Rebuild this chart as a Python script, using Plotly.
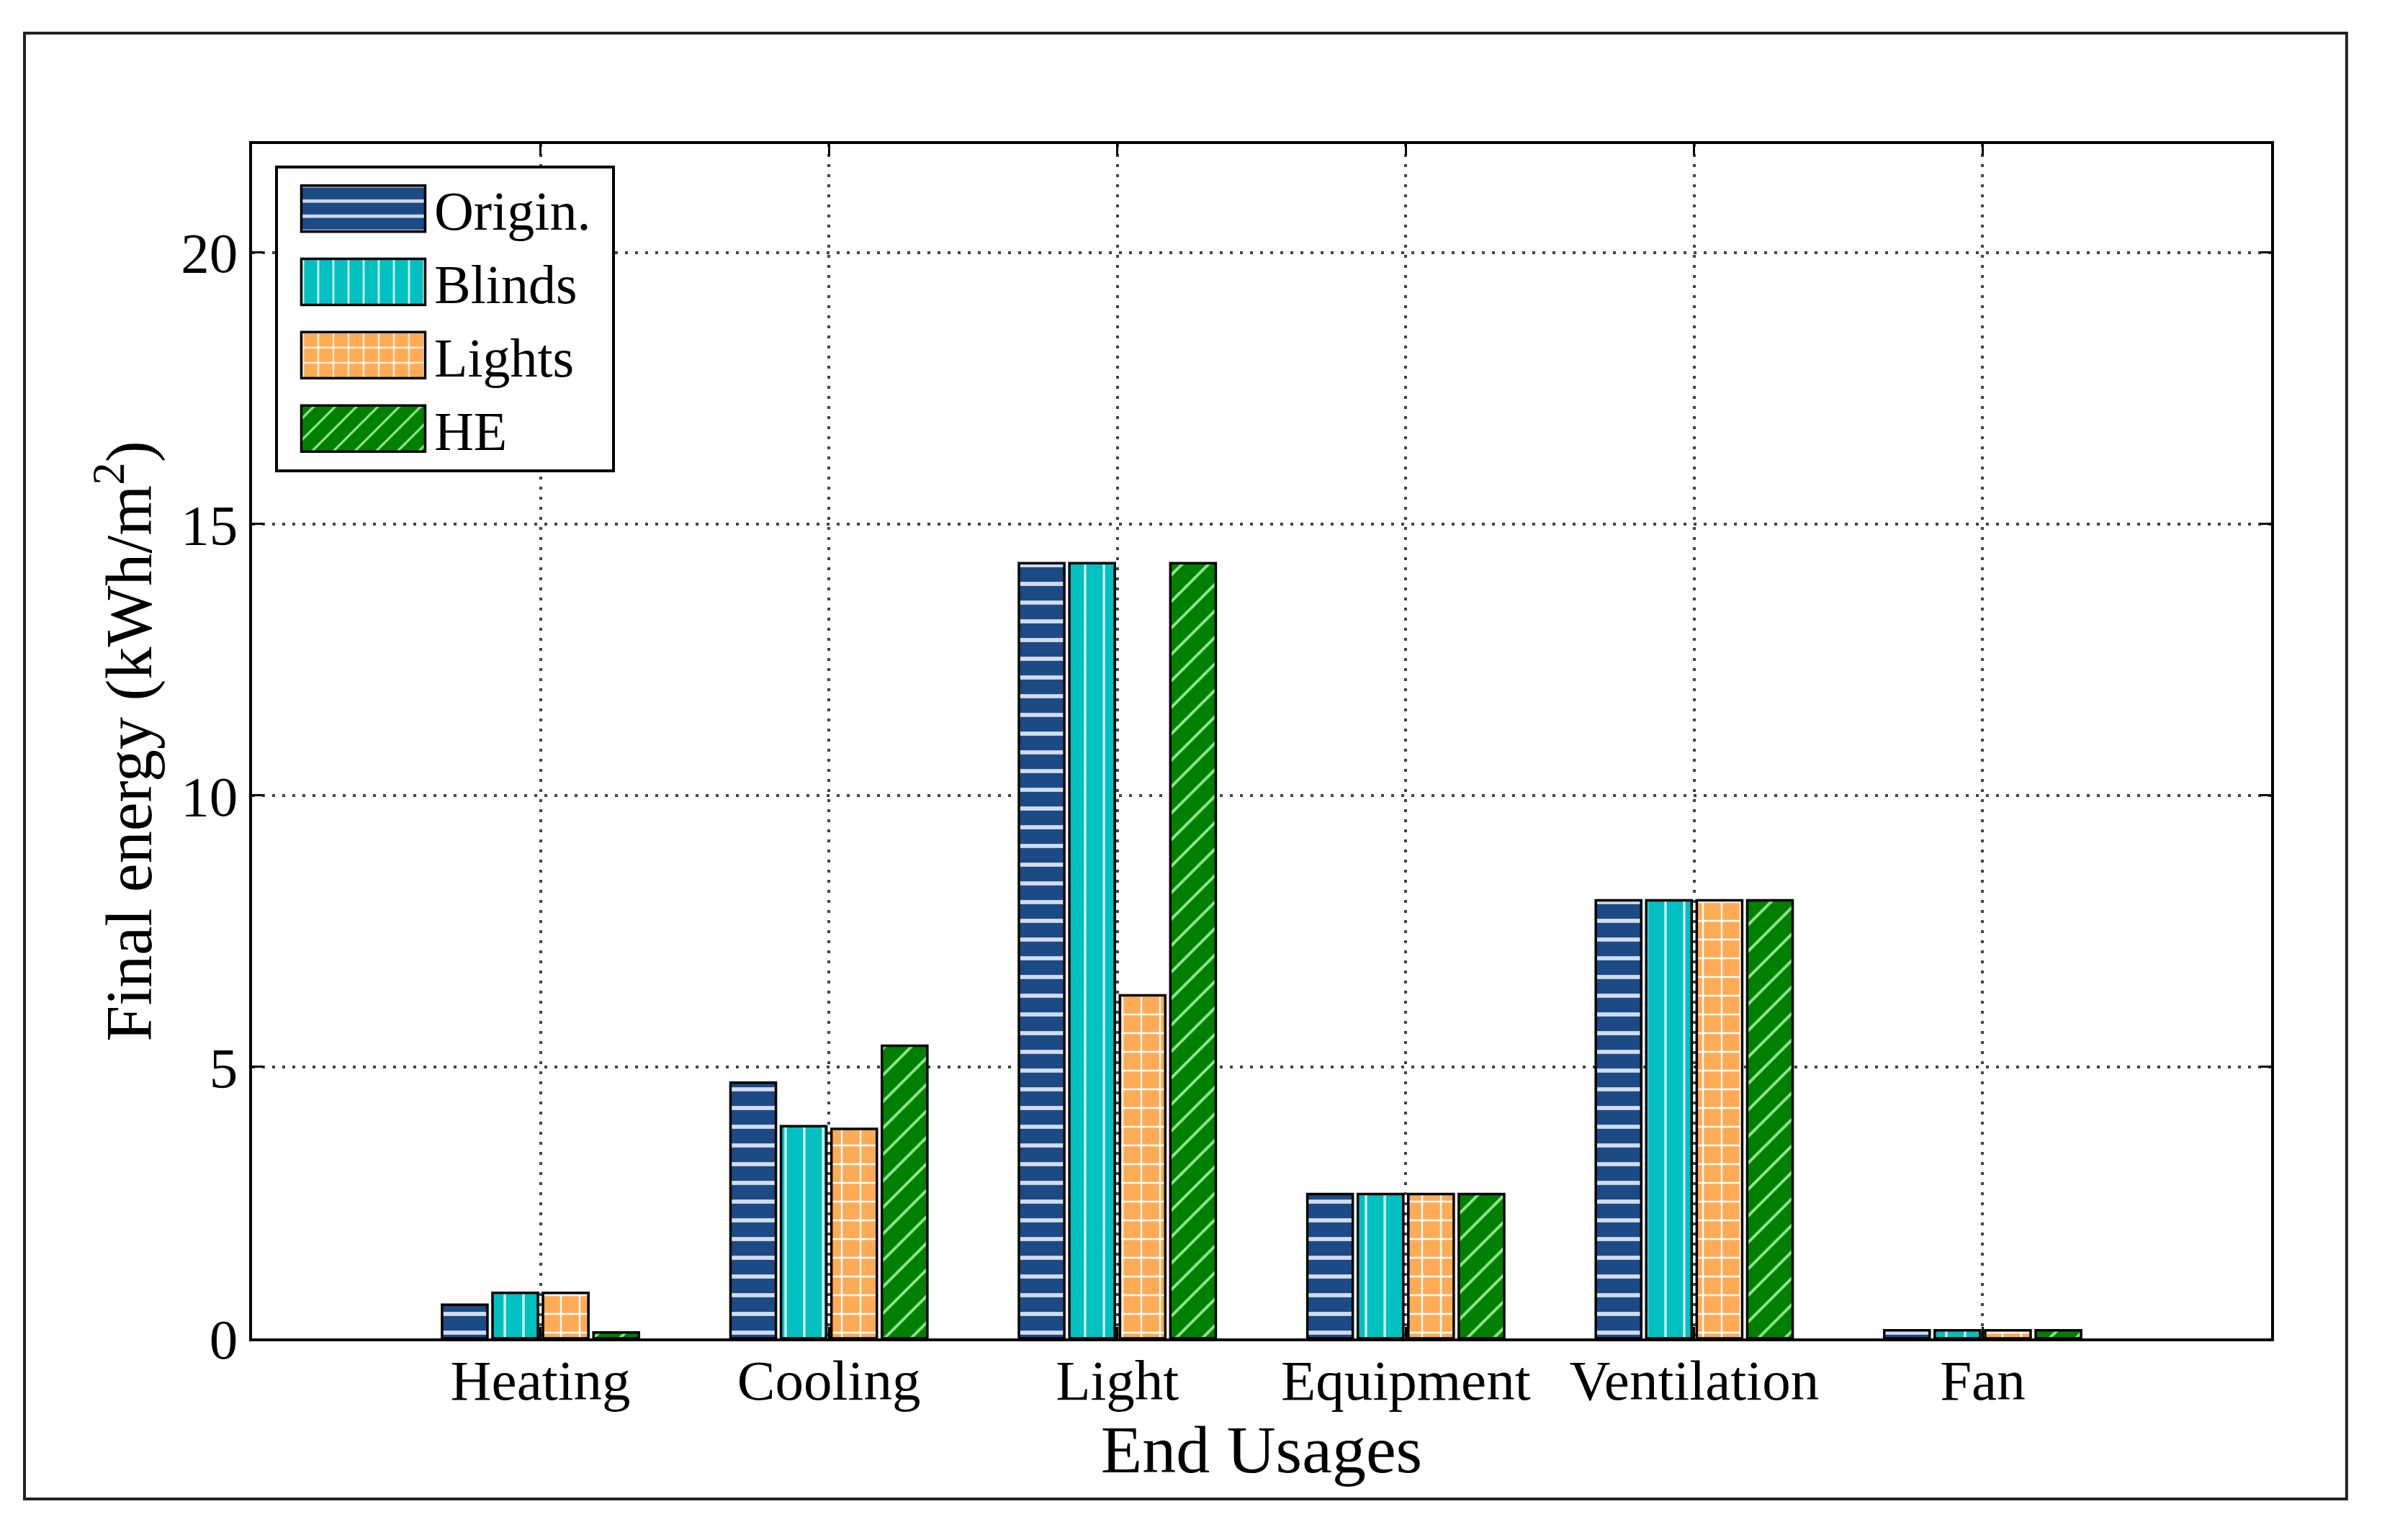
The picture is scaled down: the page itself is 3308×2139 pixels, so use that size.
import plotly.graph_objects as go

categories = ["Heating", "Cooling", "Light", "Equipment", "Ventilation", "Fan"]
series_names = ["Origin.", "Blinds", "Lights", "HE"]
origin = [0.62, 4.71, 14.28, 2.66, 8.07, 0.15]
blinds = [0.84, 3.91, 14.28, 2.66, 8.07, 0.15]
lights = [0.84, 3.86, 6.32, 2.66, 8.07, 0.15]
he = [0.11, 5.39, 14.28, 2.66, 8.07, 0.15]
y_ticks = [0, 5, 10, 15, 20]

values = [origin, blinds, lights, he]
fills = ["#1c4a84", "#00c0c0", "#ffab55", "#008000"]
fg = ["#d2dcec", "#e8ffff", "#ffffff", "#8fe88f"]
shapes_p = ["-", "|", "+", "/"]
sizes = [26, 26, 26, 26]
solid = [0.22, 0.12, 0.18, 0.15]

FONT = "Liberation Serif"
GRID_DASH = "4px,10px"

fig = go.Figure()
for name, vals, c, f, s, sz, so in zip(series_names, values, fills, fg, shapes_p, sizes, solid):
    fig.add_trace(go.Bar(
        x=categories, y=vals, name=name,
        marker=dict(color=c, line=dict(color="black", width=3.5),
                    pattern=dict(shape=s, fgcolor=f, size=sz, solidity=so, fgopacity=1)),
    ))

fig.update_layout(
    width=3308, height=2139,
    margin=dict(l=350, r=154, t=200, b=280),
    paper_bgcolor="white", plot_bgcolor="white",
    barmode="group", bargap=0.3, bargroupgap=0.1,
    font=dict(family=FONT, color="black", size=78),
    showlegend=True,
    legend=dict(x=0.0114, y=0.982, xanchor="left", yanchor="top",
                bgcolor="white", bordercolor="black", borderwidth=4,
                font=dict(family=FONT, size=76, color="black"),
                itemwidth=207, tracegroupgap=0, traceorder="normal"),
    shapes=[dict(type="rect", xref="paper", yref="paper",
                 x0=-0.1127, x1=1.0374, y0=-0.1344, y1=1.0928,
                 line=dict(color="#222", width=4), layer="below")],
)

fig.update_xaxes(
    type="category", range=[-1, 6],
    showline=True, linecolor="black", linewidth=4, mirror="allticks",
    ticks="inside", ticklen=16, tickwidth=3, tickcolor="black",
    showgrid=True, gridcolor="#444444", gridwidth=4, griddash=GRID_DASH,
    tickfont=dict(family=FONT, size=79), ticklabelstandoff=-14,
    title=dict(text="End Usages", font=dict(family=FONT, size=94), standoff=4),
)
fig.update_yaxes(
    range=[0, 22], tickvals=y_ticks, ticktext=[str(v) for v in y_ticks],
    showline=True, linecolor="black", linewidth=4, mirror="allticks",
    ticks="inside", ticklen=16, tickwidth=3, tickcolor="black",
    showgrid=True, gridcolor="#444444", gridwidth=4, griddash=GRID_DASH,
    zeroline=False,
    tickfont=dict(family=FONT, size=79),
    title=dict(text="Final energy (kWh/m<sup>2</sup>)", font=dict(family=FONT, size=90), standoff=12),
)

post = """
document.body.style.margin = '0';
var gd = document.getElementById('{plot_id}');
gd.querySelectorAll('.legend .legendpoints path').forEach(function(p){
  p.setAttribute('d','M-76,32H96V-32H-76Z');
  var st = (p.getAttribute('style') || '') + ' ' + (p.getAttribute('fill') || '');
  var m = st.match(/url\\(['"]?#([^'")]+)['"]?\\)/);
  if (m) {
    var pat = document.getElementById(m[1]);
    if (pat) { pat.setAttribute('patternTransform', 'scale(2.1)'); }
  }
});
var bg = gd.querySelector('.legend rect.bg');
if (bg) { bg.setAttribute('width', (parseFloat(bg.getAttribute('width')) + 24).toString()); }
"""
fig.write_html("out.html", post_script=post, config={"displayModeBar": False})
